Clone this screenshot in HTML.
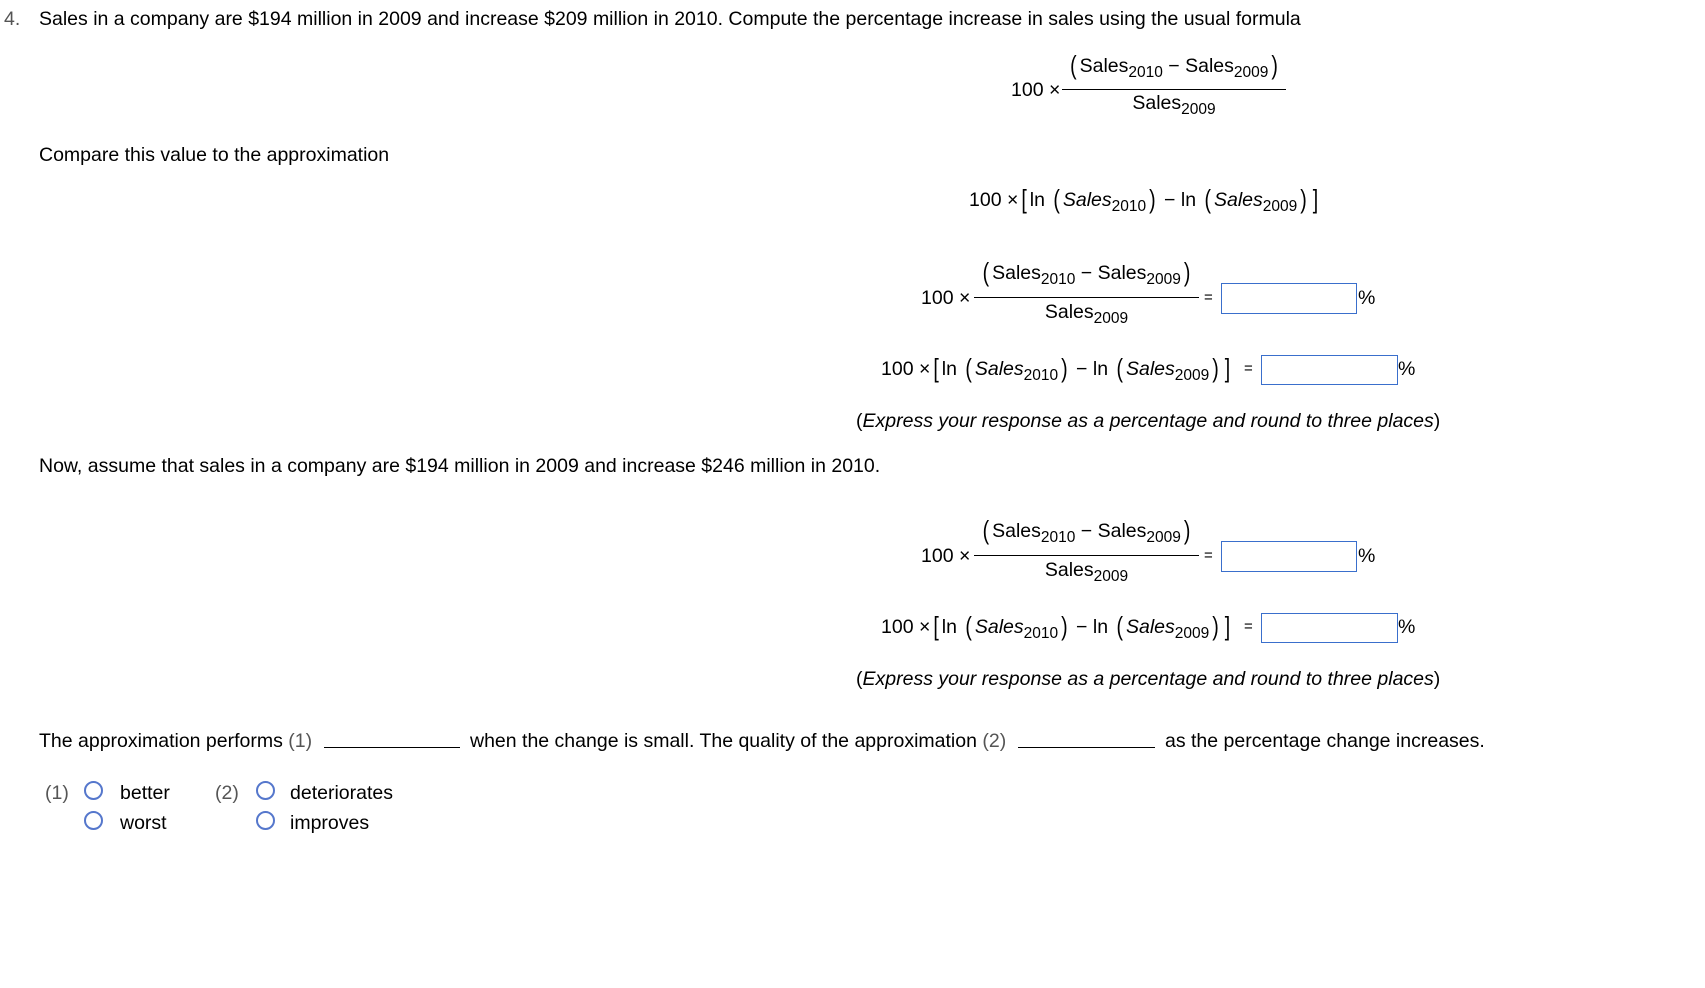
<!DOCTYPE html>
<html><head><meta charset="utf-8"><style>
body{margin:0;width:1705px;height:988px;background:#fff;position:relative;overflow:hidden;font-family:"Liberation Sans",Arial,sans-serif;font-size:19.5px;color:#000}
.a{position:absolute;white-space:nowrap;line-height:22px}
.g{color:#555}
sub{font-size:15.5px;vertical-align:-5px;line-height:0}
.p{display:inline-block;transform:scale(1,1.35);font-weight:300;margin:0 3px}
.box{position:absolute;border:1px solid #3a6fcc;background:#fff}
.ln{position:absolute;height:1px;background:#000}
.r{position:absolute;width:15px;height:15px;border:2px solid #5577cc;border-radius:50%}
i{font-style:italic}
.eq{position:absolute;font-size:15px;line-height:20px}
</style></head><body>
<div class="a g" style="left:4px;top:8px">4.</div>
<div class="a" style="left:39px;top:8px">Sales in a company are $194 million in 2009 and increase $209 million in 2010. Compute the percentage increase in sales using the usual formula</div>

<div class="a" style="left:1011px;top:79px">100 ×</div>
<div class="a" style="left:1062px;width:224px;text-align:center;top:55px"><span class="p">(</span>Sales<sub>2010</sub> − Sales<sub>2009</sub><span class="p">)</span></div>
<div class="ln" style="left:1062px;width:224px;top:89px"></div>
<div class="a" style="left:1062px;width:224px;text-align:center;top:92px">Sales<sub>2009</sub></div>

<div class="a" style="left:39px;top:144px">Compare this value to the approximation</div>

<div class="a" style="left:969px;top:189px">100 ×<span class="p">[</span>ln <span class="p">(</span><i>Sales</i><sub>2010</sub><span class="p">)</span> − ln <span class="p">(</span><i>Sales</i><sub>2009</sub><span class="p">)</span><span class="p">]</span></div>

<div class="a" style="left:921px;top:287px">100 ×</div>
<div class="a" style="left:974px;width:225px;text-align:center;top:262px"><span class="p">(</span>Sales<sub>2010</sub> − Sales<sub>2009</sub><span class="p">)</span></div>
<div class="ln" style="left:974px;width:225px;top:297px"></div>
<div class="a" style="left:974px;width:225px;text-align:center;top:301px">Sales<sub>2009</sub></div>
<div class="eq" style="left:1204px;top:288px">=</div>
<div class="box" style="left:1221px;top:283px;width:134px;height:29px"></div>
<div class="a" style="left:1358px;top:287px">%</div>

<div class="a" style="left:881px;top:358px">100 ×<span class="p">[</span>ln <span class="p">(</span><i>Sales</i><sub>2010</sub><span class="p">)</span> − ln <span class="p">(</span><i>Sales</i><sub>2009</sub><span class="p">)</span><span class="p">]</span></div>
<div class="eq" style="left:1244px;top:359px">=</div>
<div class="box" style="left:1261px;top:355px;width:135px;height:28px"></div>
<div class="a" style="left:1398px;top:358px">%</div>

<div class="a" style="left:856px;top:410px">(<i>Express your response as a percentage and round to three places</i>)</div>

<div class="a" style="left:39px;top:455px">Now, assume that sales in a company are $194 million in 2009 and increase $246 million in 2010.</div>

<div class="a" style="left:921px;top:545px">100 ×</div>
<div class="a" style="left:974px;width:225px;text-align:center;top:520px"><span class="p">(</span>Sales<sub>2010</sub> − Sales<sub>2009</sub><span class="p">)</span></div>
<div class="ln" style="left:974px;width:225px;top:555px"></div>
<div class="a" style="left:974px;width:225px;text-align:center;top:559px">Sales<sub>2009</sub></div>
<div class="eq" style="left:1204px;top:546px">=</div>
<div class="box" style="left:1221px;top:541px;width:134px;height:29px"></div>
<div class="a" style="left:1358px;top:545px">%</div>

<div class="a" style="left:881px;top:616px">100 ×<span class="p">[</span>ln <span class="p">(</span><i>Sales</i><sub>2010</sub><span class="p">)</span> − ln <span class="p">(</span><i>Sales</i><sub>2009</sub><span class="p">)</span><span class="p">]</span></div>
<div class="eq" style="left:1244px;top:617px">=</div>
<div class="box" style="left:1261px;top:613px;width:135px;height:28px"></div>
<div class="a" style="left:1398px;top:616px">%</div>

<div class="a" style="left:856px;top:668px">(<i>Express your response as a percentage and round to three places</i>)</div>

<div class="a" style="left:39px;top:730px">The approximation performs <span class="g">(1)</span></div>
<div class="ln" style="left:324px;width:136px;top:747px"></div>
<div class="a" style="left:470px;top:730px">when the change is small. The quality of the approximation <span class="g">(2)</span></div>
<div class="ln" style="left:1018px;width:137px;top:747px"></div>
<div class="a" style="left:1165px;top:730px">as the percentage change increases.</div>

<div class="a g" style="left:45px;top:782px">(1)</div>
<div class="r" style="left:84px;top:781px"></div>
<div class="a" style="left:120px;top:782px">better</div>
<div class="r" style="left:84px;top:811px"></div>
<div class="a" style="left:120px;top:812px">worst</div>
<div class="a g" style="left:215px;top:782px">(2)</div>
<div class="r" style="left:256px;top:781px"></div>
<div class="a" style="left:290px;top:782px">deteriorates</div>
<div class="r" style="left:256px;top:811px"></div>
<div class="a" style="left:290px;top:812px">improves</div>
</body></html>
